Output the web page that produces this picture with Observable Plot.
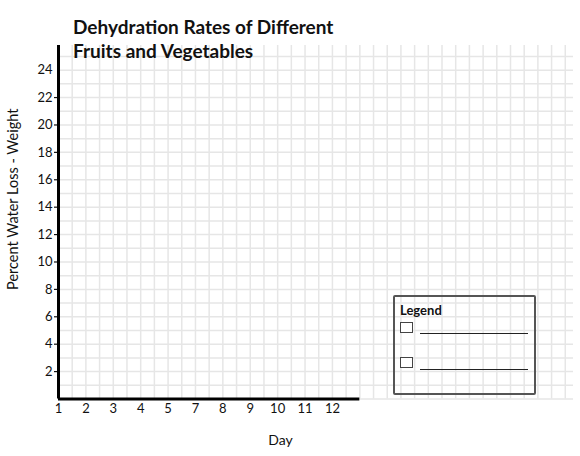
<!DOCTYPE html>
<html>
<head>
<meta charset="utf-8">
<script src="https://cdn.jsdelivr.net/npm/d3@7"></script>
<script src="https://cdn.jsdelivr.net/npm/@observablehq/plot@0.6"></script>
<style>
  html, body { margin: 0; padding: 0; background: #fff; }
  #wrap { position: relative; width: 580px; height: 456px; font-family: Lato, "Open Sans", sans-serif; color: #111; }
  #wrap svg { position: absolute; left: 0; top: 0; }
  .title { position: absolute; left: 73px; top: 15px; font-weight: 700; font-size: 19px; line-height: 24px; white-space: nowrap; }
  .legend { position: absolute; left: 393px; top: 295px; width: 143px; height: 100px; box-sizing: border-box;
            border: 2px solid #555; border-radius: 2px; }
  .legend .head { position: absolute; left: 5px; top: 5px; font-weight: 700; font-size: 13px; }
  .legend .box { position: absolute; left: 5px; width: 11px; height: 9px; border: 1.5px solid #444; background: #fff; }
  .legend .line { position: absolute; left: 25px; width: 108px; height: 0; border-bottom: 1px solid #222; }
</style>
</head>
<body>
<div id="wrap"></div>
<script>
// Blank graph-paper template: axes and labels only, no series plotted yet.
const chartTitle = ["Dehydration Rates of Different", "Fruits and Vegetables"];
const yLabel = "Percent Water Loss - Weight";
const xLabel = "Day";
const dayLabels = ["1", "2", "3", "4", "5", "7", "8", "9", "10", "11", "12"];
const yTicks = [2, 4, 6, 8, 10, 12, 14, 16, 18, 20, 22, 24];
const legendTitle = "Legend";
const legendRows = 2;

// Grid cells: each labelled day spans two squares.
const cellsPerDay = 2;
const xMax = 37.6;
const yMax = 25.8;
const gridCols = d3.range(0, Math.floor(xMax) + 1);
const gridRows = d3.range(0, Math.floor(yMax) + 1);
const dayPos = dayLabels.map((_, i) => i * cellsPerDay);
const xAxisEnd = dayLabels.length * cellsPerDay;

const gridStyle = {stroke: "#e6e6e6", strokeOpacity: 1, strokeWidth: 1.5};

const chart = Plot.plot({
  width: 580,
  height: 456,
  marginLeft: 58,
  marginRight: 7,
  marginTop: 45,
  marginBottom: 57.5,
  x: {domain: [0, xMax]},
  y: {domain: [0, yMax]},
  style: {fontFamily: "Lato, 'Open Sans', sans-serif", fontSize: "12px", color: "#111", background: "transparent"},
  marks: [
    Plot.gridX(gridCols, gridStyle),
    Plot.gridY(gridRows, gridStyle),
    // y tick labels, with short dashes on all but the top value
    Plot.axisY(yTicks, {tickSize: 0, tickPadding: 6, label: null, fontSize: 13}),
    Plot.axisY(yTicks.filter(v => v < 24), {tickSize: 4, text: null, label: null, strokeWidth: 1.2}),
    Plot.axisX(dayPos, {tickSize: 0, tickPadding: 5, label: null, fontSize: 13,
                        tickFormat: (d) => dayLabels[dayPos.indexOf(d)]}),
    // heavy axis lines
    Plot.ruleX([0], {y1: 0, y2: yMax, stroke: "#000", strokeWidth: 3}),
    Plot.ruleY([0], {x1: 0, x2: xAxisEnd, stroke: "#000", strokeWidth: 3}),
    Plot.text([yLabel], {frameAnchor: "left", textAnchor: "middle", rotate: -90, dx: -45, dy: -23,
                         fontSize: 14.5, fill: "#111"}),
    Plot.text([xLabel], {frameAnchor: "bottom-left", textAnchor: "middle", dx: 222, dy: 46,
                         fontSize: 14, fill: "#111"})
  ]
});

const wrap = document.getElementById("wrap");
wrap.appendChild(chart);

const title = document.createElement("div");
title.className = "title";
title.innerHTML = chartTitle.join("<br>");
wrap.appendChild(title);

const legend = document.createElement("div");
legend.className = "legend";
const head = document.createElement("div");
head.className = "head";
head.textContent = legendTitle;
legend.appendChild(head);
for (let i = 0; i < legendRows; i++) {
  const box = document.createElement("div");
  box.className = "box";
  box.style.top = (25 + i * 35) + "px";
  legend.appendChild(box);
  const line = document.createElement("div");
  line.className = "line";
  line.style.top = (36 + i * 36) + "px";
  legend.appendChild(line);
}
wrap.appendChild(legend);
</script>
</body>
</html>
